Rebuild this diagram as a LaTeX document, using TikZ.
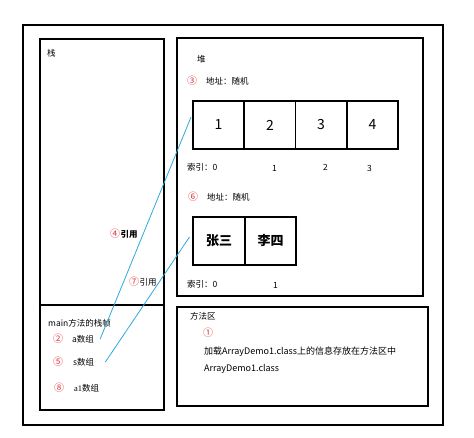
\documentclass[tikz,border=0pt]{standalone}
\usepackage{fontspec}
\setmainfont{Noto Sans CJK SC}
\newfontfamily\latinserif{Liberation Serif}
\definecolor{linkblue}{HTML}{2EA8DF}
\definecolor{numred}{HTML}{E0303A}
\begin{document}
\begin{tikzpicture}[x=1pt,y=-1pt,
  frame/.style={draw,line width=2.8pt,inner sep=0pt},
  cell/.style={draw,line width=1.8pt,minimum width=51.25pt,minimum height=48pt,inner sep=0pt,font=\fontsize{14}{16}\selectfont},
  cellcjk/.style={cell,font=\fontsize{13}{15}\selectfont\bfseries},
  lbl/.style={anchor=west,inner sep=0pt,font=\fontsize{8.5}{10}\selectfont},
  circnum/.style={anchor=west,inner sep=0pt,text=numred,font=\fontsize{10}{11}\selectfont},
  bluelink/.style={draw=linkblue,line width=0.8pt}]
\useasboundingbox (0,0) rectangle (474,437);
% frames
\node[frame,minimum width=420pt,minimum height=400pt] (outer) at (233,225) {};
\node[frame,minimum width=124pt,minimum height=371pt] (stack) at (102,224.5) {};
\node[frame,minimum width=246pt,minimum height=258pt] (heap) at (300,167) {};
\node[frame,minimum width=251pt,minimum height=99pt] (method) at (302.5,356.5) {};
\draw[line width=2.2pt] (stack.west |- 0,305) -- (stack.east |- 0,305);
% stack labels
\node[lbl] (zhan) at (47,53) {栈};
\node[circnum] (n4) at (110,234) {④};
\node[lbl,font=\fontsize{8.5}{10}\selectfont\bfseries] (yy4) at (n4.east) {引用};
\node[circnum] (n7) at (129,282) {⑦};
\node[lbl] (yy7) at (n7.east) {引用};
\node[lbl] (frameLbl) at (48,323) {main方法的栈帧};
\node[circnum] (n2) at (53,339) {②};
\node[lbl] (aarr) at (72,339) {a数组};
\node[circnum] (n5) at (53,362) {⑤};
\node[lbl] (sarr) at (73,362) {s数组};
\node[circnum] (n8) at (54,388) {⑧};
\node[lbl] (a1arr) at (74,388) {{\latinserif a1}数组};
% heap
\node[lbl] (dui) at (197,59) {堆};
\node[circnum] (n3) at (187,81) {③};
\node[lbl] (addr1) at (206,81) {地址：随机};
\node[cell] (c1) at (218.6,125) {1};
\node[cell] (c2) at (269.9,125) {2};
\node[cell] (c3) at (321.1,125) {3};
\node[cell] (c4) at (372.4,125) {4};
\node[lbl] (i0) at (187,167) {索引：0};
\node[lbl] (i1) at (272,168) {1};
\node[lbl] (i2) at (323,167) {2};
\node[lbl] (i3) at (367,168) {3};
\node[circnum] (n6) at (188,197) {⑥};
\node[lbl] (addr2) at (207,197) {地址：随机};
\node[cellcjk] (s1) at (219,241) {张三};
\node[cellcjk] (s2) at (270.5,241) {李四};
\node[lbl] (j0) at (187,284) {索引：0};
\node[lbl] (j1) at (273,285) {1};
% method area
\node[lbl] (ff) at (190,316) {方法区};
\node[circnum] (n1) at (203,333) {①};
\node[lbl,font=\fontsize{9}{11}\selectfont] (load) at (204,352) {加载ArrayDemo1.class上的信息存放在方法区中};
\node[lbl,font=\fontsize{9}{11}\selectfont] (cls) at (204,369) {ArrayDemo1.class};
% links
\coordinate (p1) at ([xshift=6pt]aarr.east);
\coordinate (p2) at ([xshift=11pt]sarr.east);
\draw[bluelink] (p1) -- ([shift={(-1pt,8pt)}]c1.west);
\draw[bluelink] (p2) -- ([shift={(-3pt,4pt)}]s1.west);
\end{tikzpicture}
\end{document}
